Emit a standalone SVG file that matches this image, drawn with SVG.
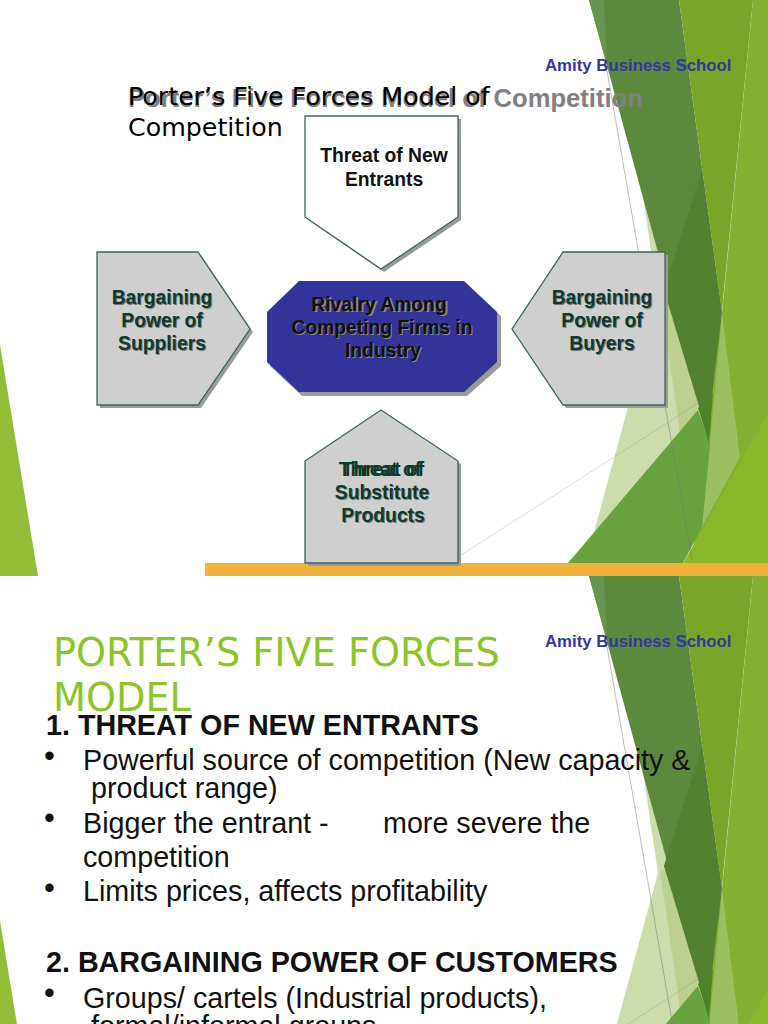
<svg xmlns="http://www.w3.org/2000/svg" width="768" height="1024" viewBox="0 0 768 1024">
<style>
.am{font:bold 16.8px "Liberation Sans",Arial,sans-serif;fill:#3636a0}
.bx{stroke:#3f6657;stroke-width:1.3}
.sh{fill:#9a9a9a}
.lb{font:bold 19.3px "Liberation Sans",Arial,sans-serif;text-anchor:middle}
.body{font:28.7px "Liberation Sans",Arial,sans-serif;fill:#111}
.bul{font:31px "Liberation Sans",Arial,sans-serif;fill:#111}
.hd{font:bold 28.7px "Liberation Sans",Arial,sans-serif;fill:#111}
.ttl{font:38.2px "DejaVu Sans",Verdana,sans-serif;fill:#8cc429}
.blk{font:25.3px "DejaVu Sans",Verdana,sans-serif;fill:#000}
.thin{stroke-width:1;fill:none;stroke:#777}
</style>
<defs>
<g id="deco">
<polygon points="642,190 658,297 582,576 700,576 690,300" fill="#ccdcab"/>
<polygon points="660,294 680,432 722,385 690,290" fill="#bdd08e"/>
<polygon points="589,0 679,0 722,313 710,443" fill="#5e893c"/>
<polygon points="589,0 604,0 607,65" fill="#659450"/>
<polygon points="702,170 664,290 710,443 722,313" fill="#54802f"/>
<polygon points="679,0 753,0 723,300 722,313" fill="#7aa52a"/>
<polygon points="753,0 768,0 768,576 690,576 722,313" fill="#85b034"/>
<polygon points="722,313 740,457 702,527 710,443" fill="#9bbf5f"/>
<polygon points="557,576 698,410 710,443 702,527 676,576" fill="#68a23c"/>
<polygon points="698,408 713,393 709,443" fill="#4a8423"/>
<polygon points="768,413 676,576 768,576" fill="#8ab82a"/>
<line x1="606" y1="65" x2="692" y2="560" class="thin" opacity=".5"/>
<line x1="458" y1="557" x2="714" y2="393" class="thin" opacity=".25"/>
<polygon points="0,345 38,576 0,576" fill="#93bd37"/>
</g>
<clipPath id="s2"><rect x="0" y="576" width="768" height="448"/></clipPath>
</defs>
<rect width="768" height="1024" fill="#fff"/>
<use href="#deco"/>
<g clip-path="url(#s2)"><rect y="576" width="768" height="448" fill="#fff"/><use href="#deco" y="576"/></g>
<rect x="205" y="563" width="563" height="13" fill="#f0b23a"/>

<text class="am" x="545" y="71">Amity Business School</text>
<text x="128" y="107" style="font:bold 25.6px 'Liberation Sans',Arial,sans-serif" fill="#808080">Porter’s Five Forces Model of Competition</text>
<text class="blk" x="128" y="105">Porter’s Five Forces Model of</text>
<text class="blk" x="128" y="136">Competition</text>

<g id="connectors"></g>

<g id="node-new-entrants">
<polygon class="sh" points="308,119 461,119 461,220 384,272 308,220"/>
<polygon class="bx" points="305,116 458,116 458,217 381,269 305,217" fill="#fff"/>
<text class="lb" x="384" y="162" fill="#111">Threat of New</text>
<text class="lb" x="384" y="186" fill="#111">Entrants</text>
</g>
<g id="node-suppliers">
<polygon class="sh" points="100,255 201,255 253,332 201,408 100,408"/>
<polygon class="bx" points="97,252 198,252 250,329 198,405 97,405" fill="#cfcfcf"/>
<text class="lb" x="163" y="305" fill="#7a7a7a">Bargaining</text><text class="lb" x="162" y="304" fill="#0f3a2c">Bargaining</text>
<text class="lb" x="163" y="328" fill="#7a7a7a">Power of</text><text class="lb" x="162" y="327" fill="#0f3a2c">Power of</text>
<text class="lb" x="163" y="351" fill="#7a7a7a">Suppliers</text><text class="lb" x="162" y="350" fill="#0f3a2c">Suppliers</text>
</g>
<g id="node-rivalry">
<polygon class="sh" points="302,285 467,285 501,316 501,366 467,396 302,396 270,366 270,316"/>
<polygon points="299,281 464,281 497,312 497,362 464,392 299,392 267,362 267,312" fill="#343399"/>
<text class="lb" x="381" y="312" fill="#8a8a70">Rivalry Among</text><text class="lb" x="379" y="311" fill="#111">Rivalry Among</text>
<text class="lb" x="383" y="335" fill="#8a8a70">Competing Firms in</text><text class="lb" x="382" y="334" fill="#111">Competing Firms in</text>
<text class="lb" x="384" y="358" fill="#8a8a70">Industry</text><text class="lb" x="383" y="357" fill="#111">Industry</text>
</g>
<g id="node-buyers">
<polygon class="sh" points="566,255 668,255 668,408 566,408 515,332"/>
<polygon class="bx" points="563,252 665,252 665,405 563,405 512,329" fill="#cfcfcf"/>
<text class="lb" x="603" y="305" fill="#7a7a7a">Bargaining</text><text class="lb" x="602" y="304" fill="#0f3a2c">Bargaining</text>
<text class="lb" x="603" y="328" fill="#7a7a7a">Power of</text><text class="lb" x="602" y="327" fill="#0f3a2c">Power of</text>
<text class="lb" x="603" y="351" fill="#7a7a7a">Buyers</text><text class="lb" x="602" y="350" fill="#0f3a2c">Buyers</text>
</g>
<g id="node-substitutes">
<polygon class="sh" points="308,464 384,413 461,464 461,566 308,566"/>
<polygon class="bx" points="305,461 381,410 458,461 458,563 305,563" fill="#cfcfcf"/>
<text class="lb" x="383" y="476" fill="#0f3a2c">Threat of</text><text class="lb" x="380" y="476" fill="#0f3a2c">Threat of</text>
<text class="lb" x="383" y="500" fill="#7a7a7a">Substitute</text><text class="lb" x="382" y="499" fill="#0f3a2c">Substitute</text>
<text class="lb" x="384" y="523" fill="#7a7a7a">Products</text><text class="lb" x="383" y="522" fill="#0f3a2c">Products</text>
</g>

<text class="am" x="545" y="647">Amity Business School</text>
<text class="ttl" x="53" y="666">PORTER’S FIVE FORCES</text>
<text class="ttl" x="53" y="711">MODEL</text>
<text class="hd" x="46" y="735">1. THREAT OF NEW ENTRANTS</text>
<text class="bul" x="44" y="766">•</text><text class="body" x="83" y="770">Powerful source of competition (New capacity &amp;</text>
<text class="body" x="91" y="798">product range)</text>
<text class="bul" x="44" y="828">•</text><text class="body" x="83" y="833">Bigger the entrant -</text><text class="body" x="383" y="833">more severe the</text>
<text class="body" x="83" y="867">competition</text>
<text class="bul" x="44" y="898">•</text><text class="body" x="83" y="901">Limits prices, affects profitability</text>
<text class="hd" x="46" y="972">2. BARGAINING POWER OF CUSTOMERS</text>
<text class="bul" x="44" y="1003">•</text><text class="body" x="83" y="1008">Groups/ cartels (Industrial products),</text>
<text class="body" x="91" y="1036">formal/informal groups</text>
</svg>
